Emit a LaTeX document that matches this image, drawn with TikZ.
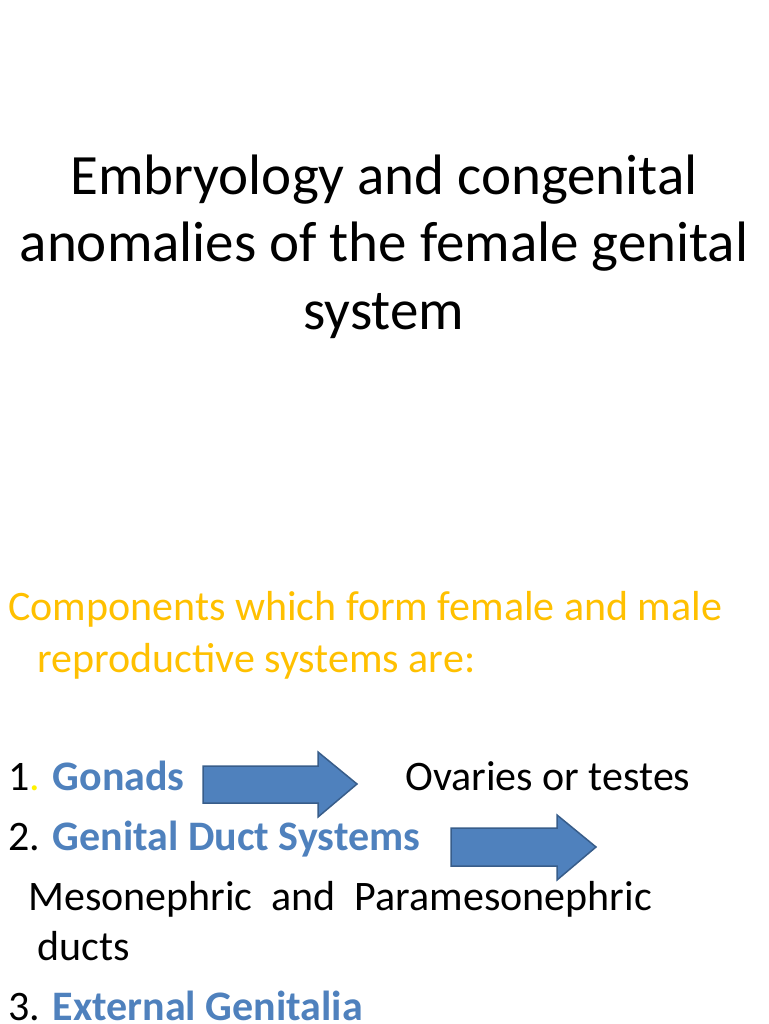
\documentclass[tikz,border=0pt]{standalone}
\usepackage{fontspec}
\setmainfont{Carlito}
\definecolor{ttl}{HTML}{FFC000}
\definecolor{bl}{HTML}{4F81BD}
\definecolor{bld}{HTML}{385D8A}
\begin{document}
\begin{tikzpicture}[x=1pt,y=1pt,
  title/.style={font=\fontsize{57}{68}\selectfont,align=center},
  txt/.style={anchor=base west,font=\fontsize{42}{50}\selectfont,inner sep=0},
  arr/.style={fill=bl,draw=bld,line width=1.5pt,line join=miter}]
\useasboundingbox (0,0) rectangle (768,-1024);
\node[title] (t1) at (384,-180) {Embryology and congenital};
\node[title] (t2) at (384,-247) {anomalies of the female genital};
\node[title] (t3) at (384,-316) {system};
\node[txt,text=ttl] (c1) at (8,-620) {Components which form female and male};
\node[txt,text=ttl] (c2) at (37,-672) {reproductive systems are:};
\node[txt] (i1) at (8,-790) {1\textcolor{yellow}{.} \textcolor{bl}{\textbf{Gonads}}};
\node[txt] (o1) at (405,-790) {Ovaries or testes};
\node[txt] (i2) at (8,-850) {2. \textcolor{bl}{\textbf{Genital Duct Systems}}};
\node[txt] (m1) at (28,-910) {Mesonephric\ \ and\ \ Paramesonephric};
\node[txt] (m2) at (37,-960) {ducts};
\node[txt] (i3) at (8,-1020) {3. \textcolor{bl}{\textbf{External Genitalia}}};
\draw[arr] (203,-766) -- (318,-766) -- (318,-752) -- (357,-784) -- (318,-817) -- (318,-803) -- (203,-803) -- cycle;
\draw[arr] (451,-828) -- (557,-828) -- (557,-815) -- (596,-847) -- (557,-880) -- (557,-866) -- (451,-866) -- cycle;
\end{tikzpicture}
\end{document}
